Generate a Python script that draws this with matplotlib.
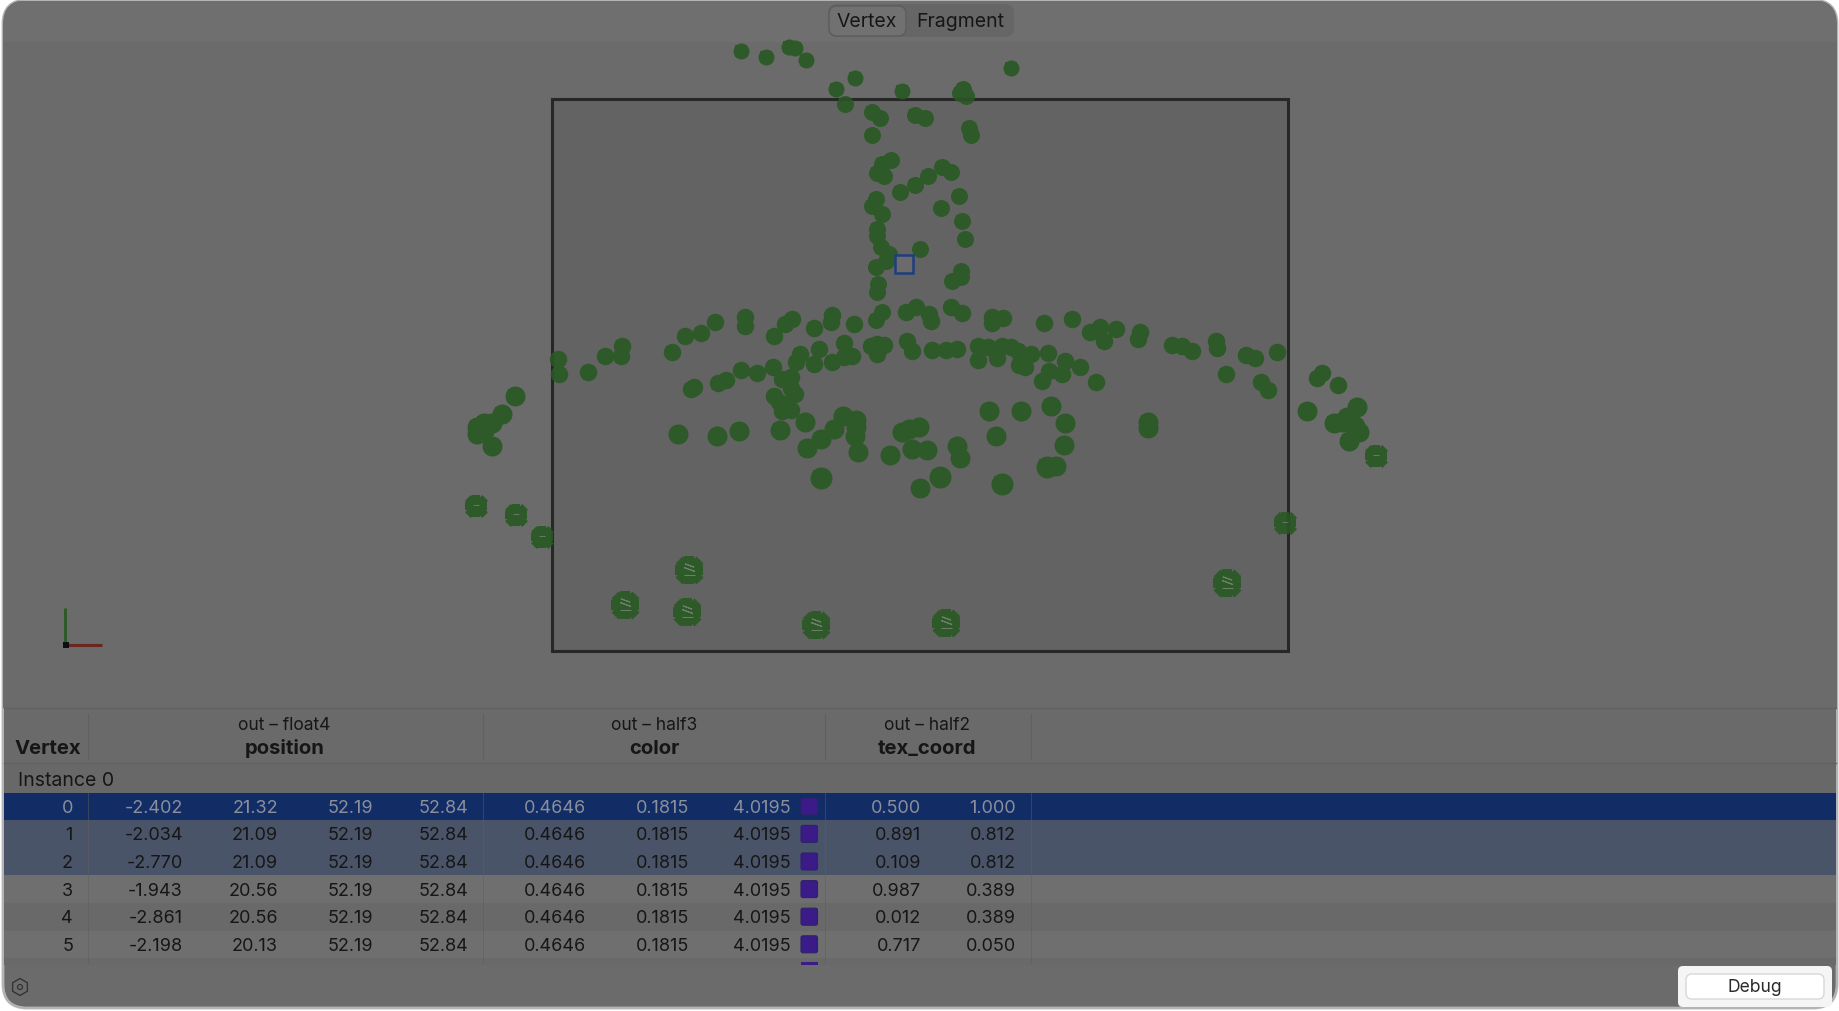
import matplotlib
matplotlib.use("Agg")
import matplotlib.pyplot as plt
import numpy as np
from matplotlib.patches import Rectangle, FancyBboxPatch

plt.rcParams['font.family'] = ['Inter', 'DejaVu Sans']

# points seen in the preview (screen pixels), grouped by how big they are drawn
top_x = [741, 766, 789, 795, 806, 855, 836, 902, 1011]
top_y = [52, 58, 48, 49, 61, 79, 90, 92, 69]

upper_x = [845, 872, 880, 872, 915, 925, 969, 971, 891, 882, 877, 884, 900, 915, 928, 942, 951,
           876, 872, 882, 877, 877, 881, 889, 886, 876, 920, 878, 877, 882, 876, 959, 941, 962,
           965, 961, 961, 952, 963, 960, 966]
upper_y = [105, 113, 119, 136, 116, 119, 129, 136, 161, 165, 174, 177, 193, 186, 177, 168, 173,
           200, 207, 215, 230, 237, 248, 255, 262, 268, 250, 285, 293, 313, 321, 197, 209, 222,
           240, 272, 278, 282, 90, 94, 97]

mid_x = [906, 916, 929, 931, 854, 832, 831, 814, 792, 785, 774, 745, 745, 715, 701, 685, 672, 622,
         621, 605, 588, 558, 559, 800, 796, 819, 814, 832, 844, 844, 852, 877, 871, 884, 877, 907,
         912, 932, 946, 957, 951, 962, 992, 1003, 992, 1044, 1072, 1100, 1090, 1104, 1116, 1140,
         1138, 1172, 1182, 1192, 1216, 1217, 1246, 1255, 1277, 1226, 1261, 1268, 978, 988, 1002,
         1011, 978, 997, 1031, 1048, 1021, 1025, 1065, 1049, 1062, 1080, 1042, 1096, 694, 691, 726,
         718, 741, 757, 773, 791, 782, 791, 774, 786, 791, 782, 1322, 1317, 1338, 795, 779, 1019, 1018]
mid_y = [313, 308, 315, 322, 325, 316, 323, 329, 320, 325, 337, 318, 327, 323, 334, 337, 353, 347,
         357, 357, 373, 360, 375, 355, 363, 350, 365, 363, 344, 358, 357, 345, 347, 346, 355, 342,
         352, 351, 351, 350, 308, 314, 318, 319, 324, 324, 320, 328, 333, 342, 330, 333,
         340, 346, 347, 352, 342, 349, 356, 359, 353, 375, 383, 391, 347, 348, 347,
         348, 361, 359, 355, 354, 360, 368, 362, 372, 375, 368, 382, 383, 388, 390, 381,
         384, 371, 374, 368, 378, 380, 389, 397, 405, 411, 412, 374, 379, 386, 395, 403, 366, 352]

low_x = [515, 502, 492, 477, 477, 492, 678, 717, 739, 780, 805, 843, 856, 856, 834, 821, 807, 855,
         858, 890, 919, 909, 902, 912, 927, 920, 989, 1021, 1051, 1065, 1064, 1056, 1047, 996,
         1148, 1148, 957, 960, 1307, 1357, 1347, 1334, 1359, 1349, 484, 484, 1342, 1355]
low_y = [397, 415, 424, 428, 435, 447, 435, 437, 432, 431, 423, 417, 421, 428, 430, 440, 449, 437,
         453, 456, 428, 430, 433, 450, 451, 489, 412, 412, 407, 424, 446, 467, 468, 437,
         423, 429, 447, 459, 412, 408, 418, 424, 433, 442, 432, 424, 423, 427]

large_x = [821, 1002, 940, 1047]
large_y = [479, 485, 478, 468]

gear_small_x = [476, 516, 542, 1285, 1376]
gear_small_y = [507, 516, 538, 524, 457]
gear_big_x = [689, 625, 687, 816, 946, 1227]
gear_big_y = [571, 606, 613, 626, 624, 584]

# table
vertex_ids = ['0', '1', '2', '3', '4', '5']
pos_x = ['-2.402', '-2.034', '-2.770', '-1.943', '-2.861', '-2.198']
pos_y = ['21.32', '21.09', '21.09', '20.56', '20.56', '20.13']
pos_z = ['52.19'] * 6
pos_w = ['52.84'] * 6
col_r = ['0.4646'] * 6
col_g = ['0.1815'] * 6
col_b = ['4.0195'] * 6
tex_u = ['0.500', '0.891', '0.109', '0.987', '0.012', '0.717']
tex_v = ['1.000', '0.812', '0.812', '0.389', '0.389', '0.050']
group_types = ['out – float4', 'out – half3', 'out – half2']
group_names = ['position', 'color', 'tex_coord']

GREEN = '#2d5a28'
TXT = '#161616'
GAP = '#6f806c'

fig = plt.figure(figsize=(18.4, 10.12), dpi=100)
fig.patch.set_facecolor('white')
ax = fig.add_axes([0, 0, 1, 1])
ax.set_xlim(0, 1840)
ax.set_ylim(1012, 0)
ax.axis('off')

def rect(x0, y0, x1, y1, col, z=1, **kw):
    r = Rectangle((x0, y0), x1 - x0, y1 - y0, facecolor=col, edgecolor='none', zorder=z, **kw)
    ax.add_patch(r)
    return r

# window
win = FancyBboxPatch((3, 1), 1834, 1008, boxstyle='round,pad=0,rounding_size=24',
                     facecolor='#6b6b6b', edgecolor='#b4b4b4', linewidth=2, zorder=1)
ax.add_patch(win)

# preview area
top = rect(3, 2, 1837, 43, '#6f6f6f', 1.1)
top.set_clip_path(win)
rect(3, 43, 1837, 709, '#6b6b6b', 1.1)

# segmented control
ax.add_patch(FancyBboxPatch((828, 5), 186, 33, boxstyle='round,pad=0,rounding_size=9',
                            facecolor='#666666', edgecolor='none', zorder=2))
ax.add_patch(FancyBboxPatch((829, 7), 77, 30, boxstyle='round,pad=0,rounding_size=8',
                            facecolor='#717171', edgecolor='#5d5d5d', linewidth=1, zorder=2.1))
ax.text(867, 22, 'Vertex', fontsize=14, color=TXT, ha='center', va='center', zorder=3)
ax.text(960.5, 22, 'Fragment', fontsize=14, color=TXT, ha='center', va='center', zorder=3)

# viewport box
rect(552, 99, 1288, 652, '#636363', 2)
ax.add_patch(Rectangle((552, 99.5), 736, 552.5, facecolor='none', edgecolor='#272727', linewidth=2.2, zorder=3))

def d2s(px):
    # marker diameter in screen pixels -> scatter size
    return (px * 0.72) ** 2

def blob(xs, ys, d):
    # the preview draws squarish dots: circle plus a square a bit inside it
    ax.scatter(xs, ys, s=d2s(d), color=GREEN, linewidths=0, zorder=4)
    ax.scatter(xs, ys, s=d2s(d * 0.74), marker='s', color=GREEN, linewidths=0, zorder=4)

blob(top_x, top_y, 16)
blob(upper_x, upper_y, 17)
blob(mid_x, mid_y, 17.5)
blob(low_x, low_y, 20)
blob(large_x, large_y, 22)

# the big ones have a cog outline and thin gaps in the middle
for xs, ys, circ, tip in [(gear_small_x, gear_small_y, 20, 23), (gear_big_x, gear_big_y, 24, 28)]:
    ax.scatter(xs, ys, s=d2s(circ), color=GREEN, linewidths=0, zorder=4)
    ax.scatter(xs, ys, s=d2s(tip), marker='P', color=GREEN, linewidths=0, zorder=4)
    ax.scatter(xs, ys, s=d2s(tip), marker='X', color=GREEN, linewidths=0, zorder=4)
ax.scatter(gear_small_x, np.array(gear_small_y) - 1, s=d2s(6), marker='_', color=GAP, linewidths=0.6, zorder=4.5)
ax.scatter(gear_big_x, np.array(gear_big_y) - 1, s=d2s(11), marker=(2, 2, 70), color=GAP, linewidths=0.7, zorder=4.5)
ax.scatter(gear_big_x, np.array(gear_big_y) - 5, s=d2s(9), marker=(2, 2, 70), color=GAP, linewidths=0.7, zorder=4.5)
ax.scatter(gear_big_x, np.array(gear_big_y) + 5, s=d2s(11), marker='_', color=GAP, linewidths=0.7, zorder=4.5)

# box line shows faintly through the dots
ax.add_patch(Rectangle((552, 99.5), 736, 552.5, facecolor='none', edgecolor='#272727',
                       linewidth=2.2, alpha=0.2, zorder=4.6))

# selected pixel
ax.add_patch(Rectangle((895, 256), 18, 18, facecolor='#6b6b6b', edgecolor='#1d3f7d', linewidth=1.8, zorder=5))

# axis gizmo
ax.plot([65.5, 65.5], [609, 646], color=GREEN, lw=2.2, solid_capstyle='butt', zorder=3)
ax.plot([66, 102], [646, 646], color='#6b2620', lw=2.2, solid_capstyle='butt', zorder=3)
rect(63, 643, 69, 649, '#0c0e14', 3.5)

# table
rect(4, 709, 1836, 764, '#6a6a6a', 2)
rect(4, 764, 1836, 793.5, '#686868', 2)
ax.plot([4, 1836], [709, 709], color='#616161', lw=1, zorder=2.2)
ax.plot([4, 1836], [764, 764], color='#626262', lw=1, zorder=2.2)
row_h = 27.6
row0 = 793.5
row_cols = ['#122c66', '#4a5469', '#4a5469', '#6f6f6f', '#696969', '#6f6f6f']
for i, c in enumerate(row_cols):
    rect(4, row0 + i * row_h, 1836, row0 + (i + 1) * row_h, c, 2)
rect(4, 959, 1836, 966, '#696969', 2)
for x in [88, 483, 825, 1031]:
    ax.plot([x, x], [715, 760], color='#606060', lw=0.8, zorder=2.3)
    ax.plot([x, x], [793.5, 965], color='#5c5c5c', lw=0.6, alpha=0.6, zorder=2.3)

ax.text(47.5, 749, 'Vertex', fontsize=14.6, fontweight='bold', color=TXT, ha='center', va='center', zorder=3)
for x, t, n in zip([284.5, 654, 927.5], group_types, group_names):
    ax.text(x, 725.5, t, fontsize=12.5, color=TXT, ha='center', va='center', zorder=3)
    ax.text(x, 749, n, fontsize=14.6, fontweight='bold', color=TXT, ha='center', va='center', zorder=3)
ax.text(18, 781, 'Instance 0', fontsize=14, color=TXT, ha='left', va='center', zorder=3)

col_rights = [73, 183, 278, 373.5, 468, 586, 689, 791, 921, 1016]
columns = [vertex_ids, pos_x, pos_y, pos_z, pos_w, col_r, col_g, col_b, tex_u, tex_v]
for i in range(len(vertex_ids)):
    yc = row0 + (i + 0.5) * row_h
    tc = '#8a8f99' if i == 0 else TXT
    for right, col in zip(col_rights, columns):
        ax.text(right, yc + 1, col[i], fontsize=13, color=tc, ha='right', va='center', zorder=3)
    ax.add_patch(FancyBboxPatch((801, yc - 8.5), 16.5, 17, boxstyle='round,pad=0,rounding_size=2',
                                facecolor='#3a1b88', edgecolor='#2c2466', linewidth=0.8, zorder=3))
rect(801, 963, 818, 966, '#3a1b88', 3)

# settings icon
ax.scatter([20], [988], s=d2s(17), marker='h', facecolor='none', edgecolor='#333333', linewidths=1, zorder=3)
ax.scatter([20], [988], s=d2s(5), marker='o', facecolor='none', edgecolor='#333333', linewidths=0.9, zorder=3)

# debug button
ax.add_patch(FancyBboxPatch((1678, 967), 154, 41, boxstyle='round,pad=0,rounding_size=5',
                            facecolor='#f5f5f5', edgecolor='none', zorder=5))
ax.add_patch(FancyBboxPatch((1686, 975), 138, 25, boxstyle='round,pad=0,rounding_size=6',
                            facecolor='white', edgecolor='#d8d8d8', linewidth=1, zorder=5.1))
ax.text(1755, 987.5, 'Debug', fontsize=12.6, color='#2a2a2a', ha='center', va='center', zorder=6)

fig.savefig('out.png', dpi=100)
